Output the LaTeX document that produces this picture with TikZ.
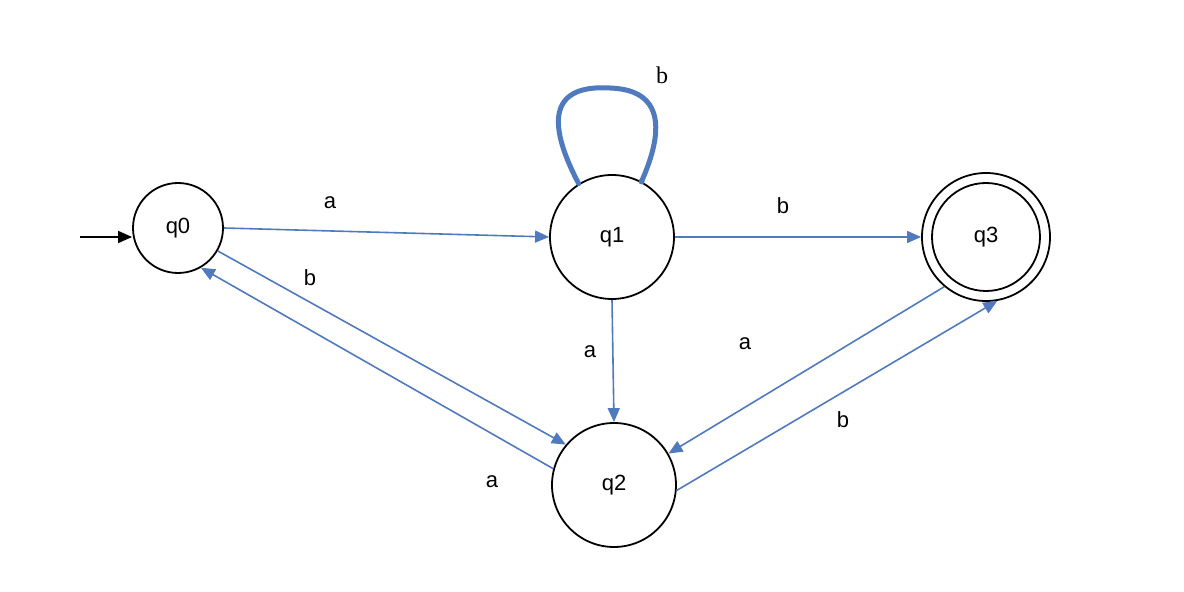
\documentclass[tikz,border=0pt]{standalone}
\usepackage{fontspec}
\setmainfont{Liberation Sans}
\newfontfamily\seriffont{Liberation Serif}
\usetikzlibrary{arrows.meta}
\definecolor{eblue}{RGB}{80,122,190}
\begin{document}
\begin{tikzpicture}[x=0.5pt,y=-0.5pt,
  st/.style={circle,draw=black,line width=0.9pt,inner sep=0pt,font=\fontsize{11}{13}\selectfont},
  ed/.style={draw=eblue,line width=0.8pt,-{Triangle[length=7pt,width=6pt]}},
  lb/.style={font=\fontsize{11}{13}\selectfont}]
\useasboundingbox (0,0) rectangle (1184,592);
\node[st,minimum size=45pt] (q0) at (178,228) {q0};
\node[st,minimum size=62pt] (q1) at (612,237) {q1};
\node[st,minimum size=64pt] (q3) at (986,237) {};
\node[circle,draw=black,line width=0.9pt,minimum size=54pt,font=\fontsize{11}{13}\selectfont] (q3i) at (986,237) {q3};
\node[st,minimum size=62pt] (q2) at (614,485) {q2};
\coordinate (init) at (80,237);
\draw[line width=0.8pt,-{Triangle[length=7pt,width=6pt]}] (init) -- (q0.west |- init);
\draw[ed] (q0.east) -- (q1.west);
\draw[ed] (q1.east) -- (q3.west);
\draw[ed] (q0.-30) -- (q2.140);
\draw[ed] (q2.165) -- (q0.-60);
\draw[ed] (q1.south) -- (q2.north);
\draw[ed] (q3.-130) -- (q2.30);
\draw[ed] (q2.-5) -- (q3.-80);
\draw[eblue,line width=2.5pt,line cap=round] (q1.122) .. controls (540,110) and (560,85) .. (610,88) .. controls (670,90) and (660,140) .. (q1.62);
\fill[eblue] (q1.62) circle (3);
\node[lb] (la1) at (330,203) {a};
\node[lb] (lb1) at (783,206) {b};
\node[lb] (lb2) at (310,278) {b};
\node[lb] (la2) at (492,482) {a};
\node[lb] (la3) at (590,352) {a};
\node[lb] (la4) at (745,344) {a};
\node[lb] (lb3) at (843,420) {b};
\node[font=\seriffont\fontsize{12}{14}\selectfont] (lb4) at (662,75) {b};
\end{tikzpicture}
\end{document}
